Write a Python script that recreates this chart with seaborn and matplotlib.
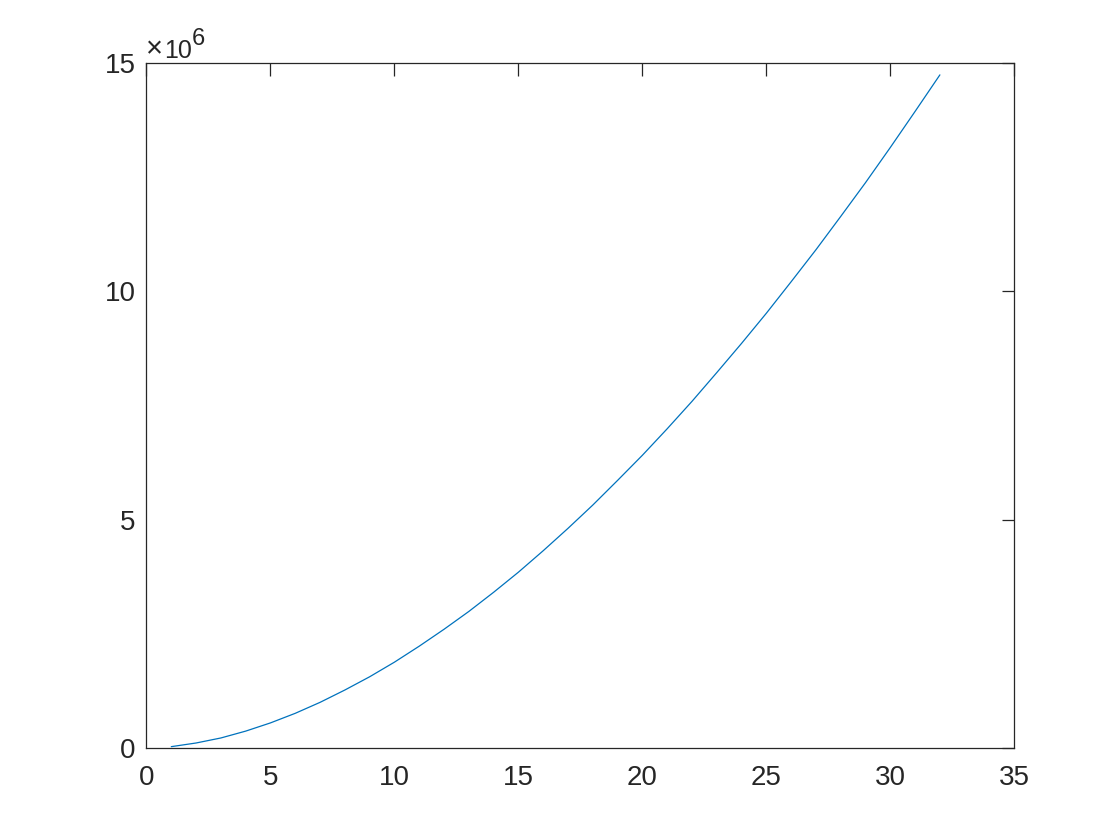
import matplotlib
matplotlib.use("Agg")
import matplotlib.pyplot as plt
import seaborn as sns
import pandas as pd
from matplotlib.ticker import FuncFormatter, FixedLocator

x_values = list(range(1, 33))
y_millions = [0.03, 0.11, 0.22, 0.37, 0.55, 0.76, 1.00, 1.27, 1.56, 1.88,
              2.23, 2.60, 2.99, 3.41, 3.85, 4.32, 4.81, 5.32, 5.86, 6.41,
              6.99, 7.59, 8.22, 8.86, 9.52, 10.21, 10.91, 11.64, 12.38, 13.15,
              13.94, 14.74]
y_values = [v * 1e6 for v in y_millions]
x_ticks = [0, 5, 10, 15, 20, 25, 30, 35]
y_ticks = [0, 5e6, 10e6, 15e6]

sns.set_style("white")
plt.rcParams['font.family'] = ['Liberation Sans', 'DejaVu Sans']

W, H = 1120, 840
fig = plt.figure(figsize=(11.2, 8.4), dpi=100)
ax = fig.add_axes([0.1308, 0.1095, 0.7748, 0.8155])

df = pd.DataFrame({"x": x_values, "y": y_values})
sns.lineplot(data=df, x="x", y="y", ax=ax, color="#0072BD", linewidth=0.9)

ax.set_xlim(0, 35)
ax.set_ylim(0, 15e6)
ax.xaxis.set_major_locator(FixedLocator(x_ticks))
ax.yaxis.set_major_locator(FixedLocator(y_ticks))
ax.yaxis.set_major_formatter(FuncFormatter(lambda v, p: f"{v/1e6:g}"))
ax.set_xlabel("")
ax.set_ylabel("")

dark = "#262626"
for s in ax.spines.values():
    s.set_visible(True)
    s.set_color(dark)
    s.set_linewidth(0.9)
ax.tick_params(direction="in", length=9, width=0.9, colors=dark,
               labelsize=20, top=True, right=True, labeltop=False, labelright=False)
ax.tick_params(axis="x", pad=12)
ax.tick_params(axis="y", pad=8)
for lab in ax.get_xticklabels() + ax.get_yticklabels():
    lab.set_color(dark)

fig.text(146 / W, 1 - 57 / H, "×", fontsize=21, color=dark,
         ha="left", va="baseline")
fig.text(164 / W, 1 - 58 / H, "10", fontsize=18, color=dark,
         ha="left", va="baseline")
fig.text(192 / W, 1 - 45 / H, "6", fontsize=17, color=dark,
         ha="left", va="baseline")

fig.savefig("out.png", dpi=100, facecolor="white")
